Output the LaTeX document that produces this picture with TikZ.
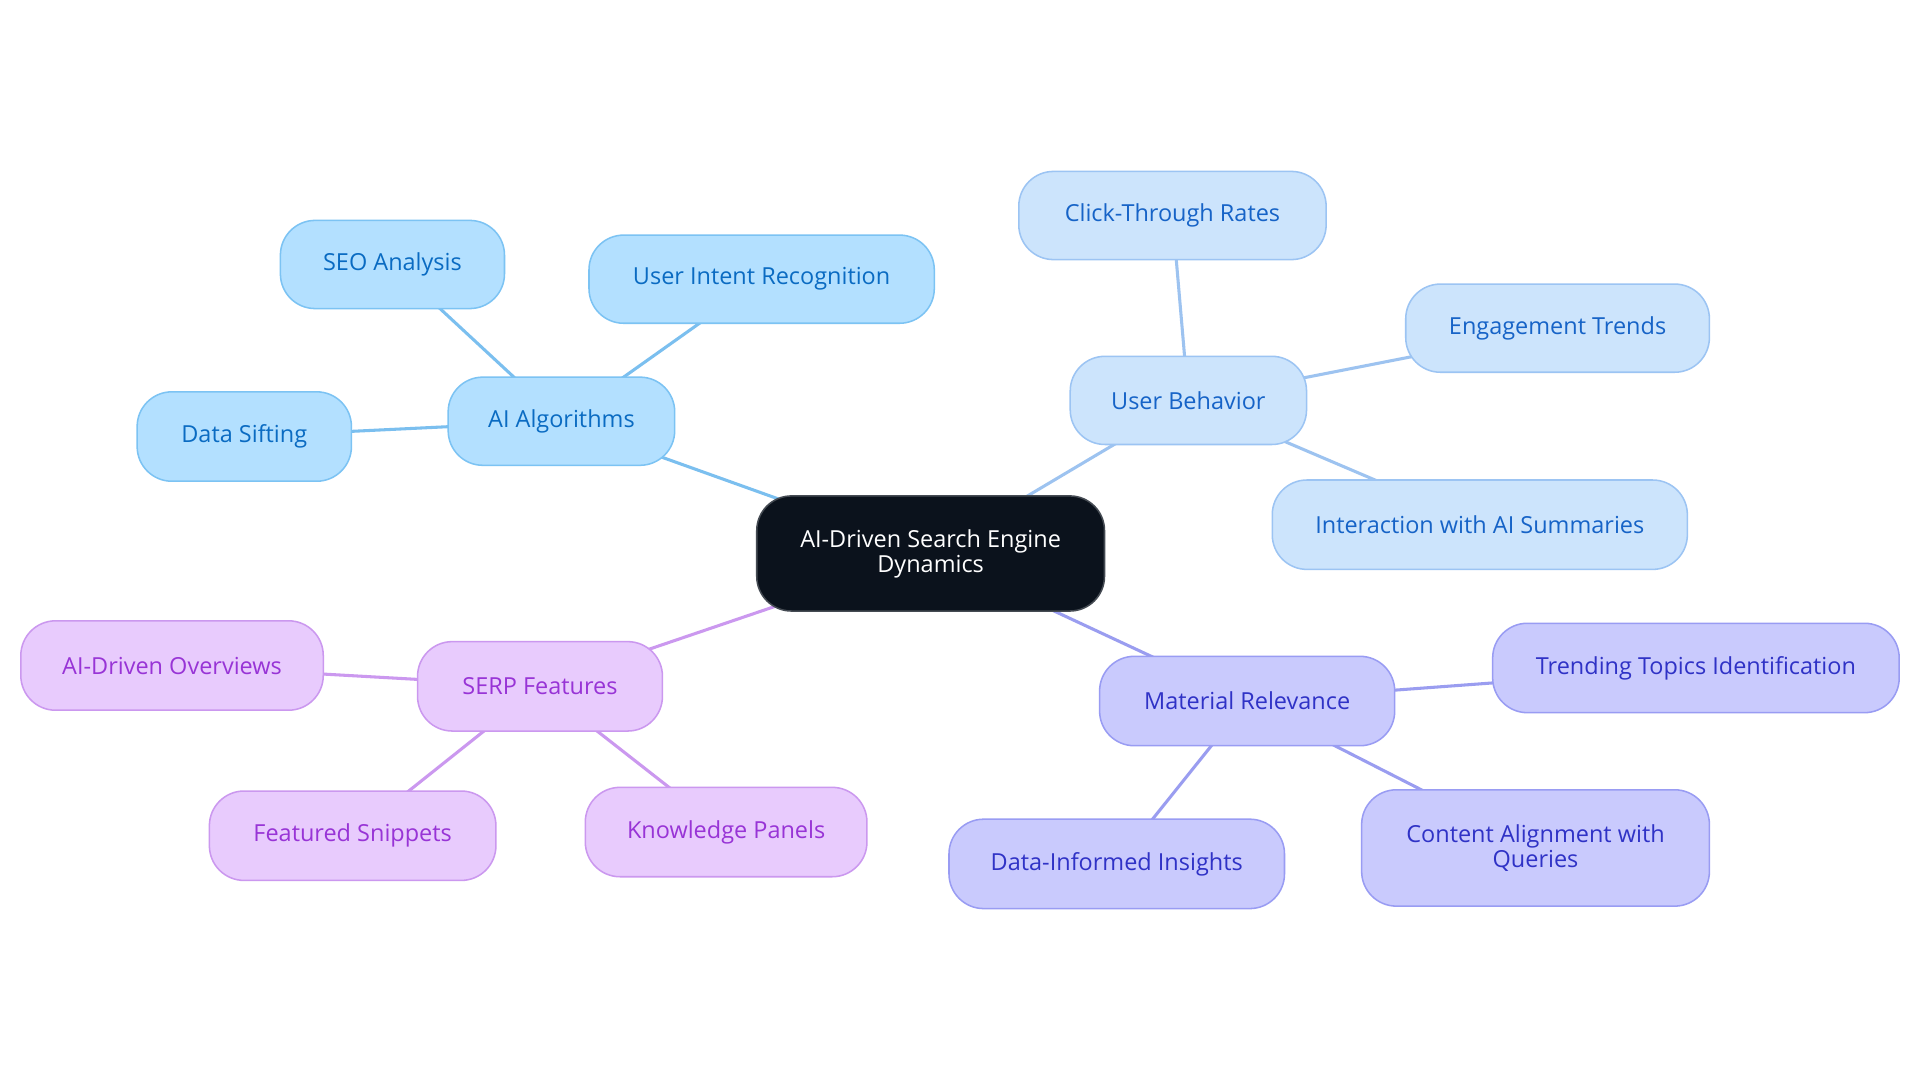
\documentclass[tikz,border=0pt]{standalone}
\usepackage{fontspec}
\setmainfont{Open Sans}
\pgfdeclarelayer{bg}
\pgfsetlayers{bg,main}
\definecolor{aiFill}{HTML}{B3E0FF}
\definecolor{aiDraw}{HTML}{7CC3F3}
\definecolor{aiText}{HTML}{0A6BC2}
\definecolor{aiLine}{HTML}{7BBFEF}
\definecolor{ubFill}{HTML}{CCE4FC}
\definecolor{ubDraw}{HTML}{9CC4F3}
\definecolor{ubText}{HTML}{1663C7}
\definecolor{ubLine}{HTML}{9DC3F0}
\definecolor{spFill}{HTML}{E8CBFD}
\definecolor{spDraw}{HTML}{CB98EF}
\definecolor{spText}{HTML}{9834D6}
\definecolor{spLine}{HTML}{CB98EF}
\definecolor{mrFill}{HTML}{C9CAFD}
\definecolor{mrDraw}{HTML}{999CF3}
\definecolor{mrText}{HTML}{2F32C6}
\definecolor{mrLine}{HTML}{9A9DF0}
\definecolor{cFill}{HTML}{0B121C}
\definecolor{cDraw}{HTML}{454B53}
\tikzset{
  base/.style={rectangle, rounded corners=17pt, line width=0.75pt, align=center,
    font=\fontsize{11.5}{12.3}\selectfont, inner sep=2pt},
  sz/.style 2 args={minimum width=#1*0.6pt, minimum height=#2*0.6pt},
  ai/.style={base, fill=aiFill, draw=aiDraw, text=aiText},
  ub/.style={base, fill=ubFill, draw=ubDraw, text=ubText},
  sp/.style={base, fill=spFill, draw=spDraw, text=spText},
  mr/.style={base, fill=mrFill, draw=mrDraw, text=mrText},
  root/.style={base, fill=cFill, draw=cDraw, text=white},
  link/.style={line width=1.5pt},
}
\begin{document}
\begin{tikzpicture}[x=0.6pt, y=-0.6pt]
\useasboundingbox (0,0) rectangle (1568,884.5);
\node[root, sz={284}{94}] (c) at (760,452) {AI-Driven Search Engine\\Dynamics};
% AI Algorithms
\node[ai, sz={185}{72}] (ai) at (458.5,344) {AI Algorithms};
\node[ai, sz={183}{72}] (seo) at (320.5,216) {SEO Analysis};
\node[ai, sz={282}{72}] (uir) at (622,228) {User Intent Recognition};
\node[ai, sz={175}{73}] (ds) at (199.5,356.5) {Data Sifting};
% User Behavior
\node[ub, sz={193}{72}] (ub) at (970.5,327) {User Behavior};
\node[ub, sz={251}{72}] (ctr) at (957.5,176) {Click-Through Rates};
\node[ub, sz={248}{72}] (et) at (1272,268) {Engagement Trends};
\node[ub, sz={339}{73}] (ias) at (1208.5,428.5) {Interaction with AI Summaries};
% SERP Features
\node[sp, sz={200}{73}] (sf) at (441,560.5) {SERP Features};
\node[sp, sz={247}{73}] (ado) at (140.5,543.5) {AI-Driven Overviews};
\node[sp, sz={234}{73}] (fs) at (288,682.5) {Featured Snippets};
\node[sp, sz={230}{73}] (kp) at (593,679.5) {Knowledge Panels};
% Material Relevance
\node[mr, sz={241}{73}] (mr) at (1018.5,572.5) {Material Relevance};
\node[mr, sz={332}{73}] (tti) at (1385,545.5) {Trending Topics Identification};
\node[mr, sz={274}{73}] (dii) at (912,705.5) {Data-Informed Insights};
\node[mr, sz={284}{95}] (caq) at (1254,692.5) {Content Alignment with\\Queries};
\begin{pgfonlayer}{bg}
\fill[white] (0,0) rectangle (1568,884.5);
\draw[link, aiLine] (c.center) -- (ai.center);
\draw[link, aiLine] (ai.center) -- (seo.center);
\draw[link, aiLine] (ai.center) -- (uir.center);
\draw[link, aiLine] (ai.center) -- (ds.center);
\draw[link, ubLine] (c.center) -- (ub.center);
\draw[link, ubLine] (ub.center) -- (ctr.center);
\draw[link, ubLine] (ub.center) -- (et.center);
\draw[link, ubLine] (ub.center) -- (ias.center);
\draw[link, spLine] (c.center) -- (sf.center);
\draw[link, spLine] (sf.center) -- (ado.center);
\draw[link, spLine] (sf.center) -- (fs.center);
\draw[link, spLine] (sf.center) -- (kp.center);
\draw[link, mrLine] (c.center) -- (mr.center);
\draw[link, mrLine] (mr.center) -- (tti.center);
\draw[link, mrLine] (mr.center) -- (dii.center);
\draw[link, mrLine] (mr.center) -- (caq.center);
\end{pgfonlayer}
\end{tikzpicture}
\end{document}
